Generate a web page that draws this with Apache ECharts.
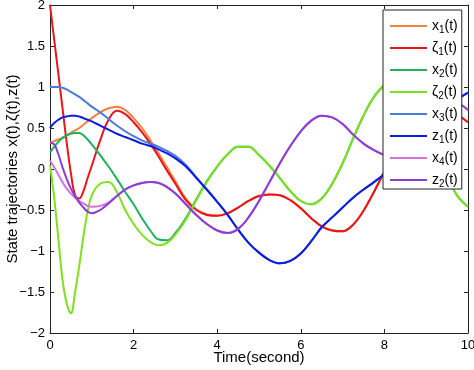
<!DOCTYPE html>
<html>
<head>
<meta charset="utf-8">
<script src="https://cdn.jsdelivr.net/npm/echarts@6/dist/echarts.min.js"></script>
<style>
html,body{margin:0;padding:0;background:#fff;}
#chart{width:474px;height:370px;}
</style>
</head>
<body>
<div id="chart"></div>
<script>
// time samples (seconds)
var time = [0,0.1,0.2,0.3,0.4,0.5,0.6,0.7,0.8,0.9,1.0,
  1.2,1.4,1.6,1.8,2.0,2.2,2.4,2.6,2.8,3.0,
  3.25,3.5,3.75,4.0,4.25,4.5,4.75,5.0,5.25,5.5,5.75,6.0,6.25,6.5,6.75,7.0,7.25,7.5,7.75,8.0,8.25,8.5,8.75,9.0,9.25,9.5,9.75,10];

var x1 = [0.32,0.34,0.36,0.38,0.41,0.44,0.47,0.5,0.54,0.58,0.62,
  0.69,0.74,0.76,0.72,0.62,0.5,0.35,0.19,0.02,-0.15,
  -0.36,-0.49,-0.55,-0.57,-0.54,-0.47,-0.39,-0.33,-0.31,-0.32,-0.38,-0.48,-0.6,-0.7,-0.75,-0.76,-0.68,-0.51,-0.28,-0.03,0.22,0.43,0.6,0.71,0.75,0.72,0.66,0.57];
var zeta1 = [2,1.58,1.16,0.74,0.32,-0.05,-0.32,-0.36,-0.27,-0.11,0.04,
  0.35,0.6,0.71,0.67,0.57,0.45,0.31,0.15,-0.02,-0.18,
  -0.38,-0.5,-0.56,-0.57,-0.54,-0.47,-0.39,-0.33,-0.31,-0.32,-0.38,-0.48,-0.6,-0.7,-0.75,-0.76,-0.68,-0.51,-0.28,-0.03,0.22,0.43,0.6,0.71,0.75,0.72,0.66,0.57];
var x2 = [0.2,0.27,0.33,0.38,0.41,0.43,0.44,0.44,0.41,0.36,0.3,
  0.17,0.03,-0.12,-0.28,-0.43,-0.6,-0.75,-0.86,-0.87,-0.78,
  -0.6,-0.37,-0.15,0.03,0.18,0.27,0.27,0.17,0.04,-0.11,-0.27,-0.39,-0.43,-0.36,-0.18,0.07,0.37,0.65,0.88,1.02,1.07,1.0,0.83,0.55,0.22,-0.1,-0.33,-0.46];
var zeta2 = [0.05,-0.35,-0.85,-1.35,-1.64,-1.76,-1.5,-1.18,-0.82,-0.52,-0.32,
  -0.18,-0.16,-0.28,-0.5,-0.67,-0.8,-0.89,-0.93,-0.9,-0.8,
  -0.62,-0.38,-0.16,0.03,0.18,0.27,0.27,0.17,0.04,-0.11,-0.27,-0.39,-0.43,-0.36,-0.18,0.07,0.37,0.65,0.88,1.02,1.07,1.0,0.83,0.55,0.22,-0.1,-0.33,-0.46];
var x3 = [1.0,1.0,1.0,0.99,0.97,0.94,0.91,0.88,0.84,0.8,0.76,
  0.69,0.61,0.53,0.46,0.4,0.35,0.31,0.27,0.22,0.16,
  0.05,-0.1,-0.25,-0.4,-0.56,-0.74,-0.9,-1.02,-1.11,-1.15,-1.12,-1.03,-0.88,-0.71,-0.59,-0.47,-0.35,-0.25,-0.16,-0.06,0.06,0.2,0.36,0.51,0.64,0.75,0.85,0.93];
var z1 = [0.5,0.56,0.6,0.63,0.64,0.65,0.65,0.64,0.62,0.6,0.58,
  0.53,0.48,0.43,0.39,0.35,0.31,0.28,0.24,0.19,0.13,
  0.03,-0.11,-0.25,-0.4,-0.56,-0.74,-0.9,-1.02,-1.11,-1.15,-1.12,-1.03,-0.88,-0.71,-0.59,-0.47,-0.35,-0.25,-0.16,-0.06,0.06,0.2,0.36,0.51,0.64,0.75,0.85,0.93];
var x4 = [0.1,0.02,-0.07,-0.16,-0.24,-0.3,-0.35,-0.39,-0.42,-0.45,-0.46,
  -0.45,-0.41,-0.33,-0.25,-0.2,-0.17,-0.16,-0.17,-0.22,-0.3,
  -0.43,-0.56,-0.67,-0.75,-0.78,-0.73,-0.59,-0.39,-0.16,0.07,0.28,0.46,0.59,0.65,0.63,0.55,0.42,0.31,0.23,0.17,0.13,0.17,0.3,0.5,0.68,0.79,0.79,0.72];
var z2 = [0.32,0.3,0.18,0.02,-0.12,-0.24,-0.33,-0.41,-0.47,-0.52,-0.54,
  -0.5,-0.42,-0.33,-0.25,-0.2,-0.17,-0.16,-0.17,-0.22,-0.3,
  -0.43,-0.56,-0.67,-0.75,-0.78,-0.73,-0.59,-0.39,-0.16,0.07,0.28,0.46,0.59,0.65,0.63,0.55,0.42,0.31,0.23,0.17,0.13,0.17,0.3,0.5,0.68,0.79,0.79,0.72];

var seriesNames = ['x₁(t)','ζ₁(t)','x₂(t)','ζ₂(t)','x₃(t)','z₁(t)','x₄(t)','z₂(t)'];
var legendBase = ['x','ζ','x','ζ','x','z','x','z'];
var legendSub = ['1','1','2','2','3','1','4','2'];
var seriesValues = [x1, zeta1, x2, zeta2, x3, z1, x4, z2];
var seriesColors = ['#f4803f','#e8161b','#1fb25c','#7fe01f','#4c7cd8','#0c1ce0','#d670dc','#8a3ed2'];

var xTicks = {min:0, max:10, interval:2};
var yTicks = {min:-2, max:2, interval:0.5};

var FONT = "'Liberation Sans', Arial, Helvetica, sans-serif";

var chart = echarts.init(document.getElementById('chart'), null, {renderer:'canvas'});

var series = seriesValues.map(function(vals, k){
  return {
    name: seriesNames[k],
    type: 'line',
    xAxisIndex: 0, yAxisIndex: 0,
    data: time.map(function(t, i){ return [t, vals[i]]; }),
    showSymbol: false, symbol: 'none',
    smooth: 0.4,
    lineStyle: {width: 2, color: seriesColors[k]},
    itemStyle: {color: seriesColors[k]},
    emphasis: {disabled: true},
    z: 2 + k*0.01
  };
});

function yFmt(v){
  var s = String(Math.abs(v));
  return v < 0 ? '\u2212' + s : s;
}

var axisLineStyle = {color:'#222', width:1};

chart.setOption({
  animation: false,
  backgroundColor: '#fff',
  textStyle: {fontFamily: FONT},
  grid: {left: 50, right: 6, top: 5, bottom: 37, containLabel: false, outerBoundsMode: 'none'},
  xAxis: [
    {type:'value', position:'bottom', min:xTicks.min, max:xTicks.max, interval:xTicks.interval,
     axisLine:{show:true, onZero:false, lineStyle:axisLineStyle},
     axisTick:{show:true, inside:true, length:4, lineStyle:axisLineStyle},
     axisLabel:{color:'#000', fontSize:13, margin:6, fontFamily:FONT},
     splitLine:{show:false},
     name:'Time(second)', nameLocation:'middle', nameGap:17, nameMoveOverlap:false,
     nameTextStyle:{color:'#000', fontSize:15, fontFamily:FONT}},
    {type:'value', position:'top', min:xTicks.min, max:xTicks.max, interval:xTicks.interval,
     axisLine:{show:true, onZero:false, lineStyle:axisLineStyle},
     axisTick:{show:true, inside:true, length:4, lineStyle:axisLineStyle},
     axisLabel:{show:false}, splitLine:{show:false}}
  ],
  yAxis: [
    {type:'value', position:'left', min:yTicks.min, max:yTicks.max, interval:yTicks.interval,
     axisLine:{show:true, onZero:false, lineStyle:axisLineStyle},
     axisTick:{show:true, inside:true, length:4, lineStyle:axisLineStyle},
     axisLabel:{color:'#000', fontSize:13, margin:5, fontFamily:FONT, formatter:yFmt},
     splitLine:{show:false},
     name:'State trajectories x(t),ζ(t),z(t)', nameLocation:'middle', nameGap:30, nameMoveOverlap:false,
     nameTextStyle:{color:'#000', fontSize:15, fontFamily:FONT}},
    {type:'value', position:'right', min:yTicks.min, max:yTicks.max, interval:yTicks.interval,
     axisLine:{show:true, onZero:false, lineStyle:axisLineStyle},
     axisTick:{show:true, inside:true, length:4, lineStyle:axisLineStyle},
     axisLabel:{show:false}, splitLine:{show:false}}
  ],
  legend: {
    show: true,
    orient: 'vertical',
    left: 383, top: 10,
    padding: [9, 4, 0, 7],
    itemGap: 6,
    itemWidth: 37, itemHeight: 2,
    icon: 'rect',
    selectedMode: false,
    backgroundColor: '#fff',
    borderColor: '#222', borderWidth: 1,
    data: seriesNames,
    formatter: function(name){
      var k = seriesNames.indexOf(name);
      return '{m|' + legendBase[k] + '}{s|' + legendSub[k] + '}{m|(t)}';
    },
    textStyle: {
      color:'#000', fontSize:14, fontFamily:FONT,
      rich: {
        m: {fontSize:14, fontFamily:FONT, color:'#000', lineHeight:18, verticalAlign:'middle'},
        s: {fontSize:10, fontFamily:FONT, color:'#000', lineHeight:10, verticalAlign:'bottom'}
      }
    }
  },
  series: series
});
</script>
</body>
</html>
